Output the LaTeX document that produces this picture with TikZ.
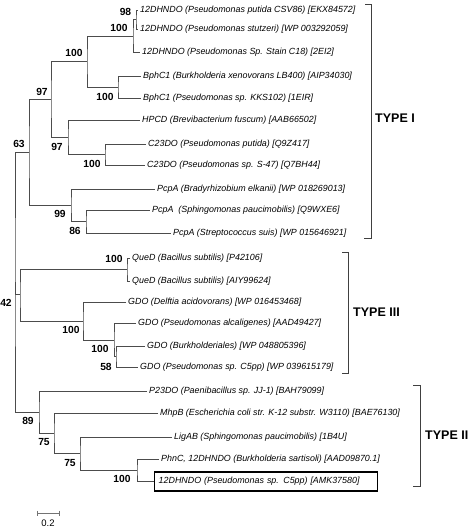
\documentclass[tikz,border=0pt]{standalone}
\usepackage{fontspec}
\setmainfont{Liberation Sans}
\usepackage{tikz}
\usetikzlibrary{positioning}
\tikzset{
  branch/.style={draw=black!70, line width=0.9pt},
  leaf/.style={anchor=west, inner sep=2pt, font=\fontsize{8.9}{10}\selectfont\itshape},
  boot/.style={inner sep=0pt, font=\fontsize{10.3}{12}\selectfont\bfseries},
  clade/.style={draw=black!75, line width=0.9pt},
  typelabel/.style={anchor=west, inner sep=0pt, font=\fontsize{12.5}{14}\selectfont\bfseries}
}

\begin{document}
\begin{tikzpicture}[x=1pt, y=-1pt]
  \useasboundingbox (0,0) rectangle (474,528);

  % Leaves, TYPE I
  \node[leaf] (l1) at (138,10) {12DHNDO (Pseudomonas putida CSV86) [EKX84572]};
  \node[leaf] (l2) at (138,29) {12DHNDO (Pseudomonas stutzeri) [WP 003292059]};
  \node[leaf] (l3) at (140,52) {12DHNDO (Pseudomonas Sp. Stain C18) [2EI2]};
  \node[leaf] (l4) at (141,76) {BphC1 (Burkholderia xenovorans LB400) [AIP34030]};
  \node[leaf] (l5) at (141,98) {BphC1 (Pseudomonas sp. KKS102) [1EIR]};
  \node[leaf] (l6) at (140,120) {HPCD (Brevibacterium fuscum) [AAB66502]};
  \node[leaf] (l7) at (146,144) {C23DO (Pseudomonas putida) [Q9Z417]};
  \node[leaf] (l8) at (145,165) {C23DO (Pseudomonas sp. S-47) [Q7BH44]};
  \node[leaf] (l9) at (155,189) {PcpA (Bradyrhizobium elkanii) [WP 018269013]};
  \node[leaf] (l10) at (150,210) {PcpA~ (Sphingomonas paucimobilis) [Q9WXE6]};
  \node[leaf] (l11) at (171,233) {PcpA (Streptococcus suis) [WP 015646921]};
  % Leaves, TYPE III
  \node[leaf] (l12) at (130,258) {QueD (Bacillus subtilis) [P42106]};
  \node[leaf] (l13) at (130,281) {QueD (Bacillus subtilis) [AIY99624]};
  \node[leaf] (l14) at (126,302) {GDO (Delftia acidovorans) [WP 016453468]};
  \node[leaf] (l15) at (136,323) {GDO (Pseudomonas alcaligenes) [AAD49427]};
  \node[leaf] (l16) at (145,346) {GDO (Burkholderiales) [WP 048805396]};
  \node[leaf] (l17) at (138,367) {GDO (Pseudomonas sp. C5pp) [WP 039615179]};
  % Leaves, TYPE II
  \node[leaf] (l18) at (147,391) {P23DO (Paenibacillus sp. JJ-1) [BAH79099]};
  \node[leaf] (l19) at (158,413) {MhpB (Escherichia coli str. K-12 substr. W3110) [BAE76130]};
  \node[leaf] (l20) at (172,437) {LigAB (Sphingomonas paucimobilis) [1B4U]};
  \node[leaf] (l21) at (159,459) {PhnC, 12DHNDO (Burkholderia sartisoli) [AAD09870.1]};
  \node[leaf, draw=black, line width=1.4pt, inner xsep=4pt, text width=215pt, minimum height=19pt] (l22) at (154,481.5) {12DHNDO (Pseudomonas sp. C5pp) [AMK37580]};

  % Internal nodes
  \coordinate (n98) at (136,19.5);
  \coordinate (n100a) at (133,36);
  \coordinate (nBph) at (118,87);
  \coordinate (n100b) at (87,61.5);
  \coordinate (nC23) at (105,154.5);
  \coordinate (n97l) at (68,137);
  \coordinate (n97u) at (51,99);
  \coordinate (n86) at (86,221.5);
  \coordinate (n99) at (71,205);
  \coordinate (n63) at (29,152);
  \coordinate (nQue) at (127,269.5);
  \coordinate (n58) at (116,356.5);
  \coordinate (nG2) at (114,340);
  \coordinate (nG1) at (83,321);
  \coordinate (nT3) at (20,294.5);
  \coordinate (nII) at (137,470);
  \coordinate (n75b) at (80,453.5);
  \coordinate (n75a) at (54,433);
  \coordinate (n89) at (39,412);
  \coordinate (root) at (15,282);

  % Branches
  \draw[branch] (l1.west) -| (n98) |- (l2.west);
  \draw[branch] (n98) -| (n100a) |- (l3.west);
  \draw[branch] (l4.west) -| (nBph) |- (l5.west);
  \draw[branch] (n100a) -| (n100b) |- (nBph);
  \draw[branch] (l7.west) -| (nC23) |- (l8.west);
  \draw[branch] (l6.west) -| (n97l) |- (nC23);
  \draw[branch] (n100b) -| (n97u) |- (n97l);
  \draw[branch] (l10.west) -| (n86) |- (l11.west);
  \draw[branch] (l9.west) -| (n99) |- (n86);
  \draw[branch] (n97u) -| (n63) |- (n99);
  \draw[branch] (l12.west) -| (nQue) |- (l13.west);
  \draw[branch] (l16.west) -| (n58) |- (l17.west);
  \draw[branch] (l15.west) -| (nG2) |- (n58);
  \draw[branch] (l14.west) -| (nG1) |- (nG2);
  \draw[branch] (nQue) -| (nT3) |- (nG1);
  \draw[branch] (l21.west) -| (nII) |- (l22.west);
  \draw[branch] (l20.west) -| (n75b) |- (nII);
  \draw[branch] (l19.west) -| (n75a) |- (n75b);
  \draw[branch] (l18.west) -| (n89) |- (n75a);
  \draw[branch] (n63) -| (root) |- (n89);
  \draw[branch] (root) |- (nT3);

  % Bootstrap values
  \node[boot] (b98) at (125.5,12) {98};
  \node[boot] (b100a) at (119,28) {100};
  \node[boot] (b100b) at (74,53) {100};
  \node[boot] (b100c) at (105,97) {100};
  \node[boot] (b97u) at (42,92) {97};
  \node[boot] (b63) at (19,144) {63};
  \node[boot] (b97l) at (57,147) {97};
  \node[boot] (b100d) at (92,164) {100};
  \node[boot] (b99) at (60,214) {99};
  \node[boot] (b86) at (75,231) {86};
  \node[boot] (b100e) at (114,259) {100};
  \node[boot] (b42) at (6,303) {42};
  \node[boot] (b100f) at (71,330) {100};
  \node[boot] (b100g) at (100,349) {100};
  \node[boot] (b58) at (106,367) {58};
  \node[boot] (b89) at (28,421) {89};
  \node[boot] (b75a) at (44,442) {75};
  \node[boot] (b75b) at (70,463) {75};
  \node[boot] (b100h) at (122,479) {100};

  % Clade brackets
  \draw[clade] (365,4) -- (371,4) -- (371,238) -- (364,238);
  \node[typelabel] (t1) at (375,118) {TYPE I};
  \draw[clade] (342,252) -- (348,252) -- (348,373) -- (342,373);
  \node[typelabel] (t3) at (353,312) {TYPE III};
  \draw[clade] (413,385) -- (420,385) -- (420,486) -- (413,486);
  \node[typelabel] (t2) at (425,435) {TYPE II};

  % Scale bar
  \coordinate (sbl) at (37,513);
  \coordinate (sbr) at (59,513);
  \draw[branch, draw=black!55] (sbl) -- (sbr);
  \draw[branch, draw=black!55] ([yshift=2.5pt]sbl) -- ([yshift=-2.5pt]sbl);
  \draw[branch, draw=black!55] ([yshift=2.5pt]sbr) -- ([yshift=-2.5pt]sbr);
  \node[inner sep=0pt, font=\fontsize{9.5}{11}\selectfont] (sblabel) at (48,523) {0.2};
\end{tikzpicture}
\end{document}
